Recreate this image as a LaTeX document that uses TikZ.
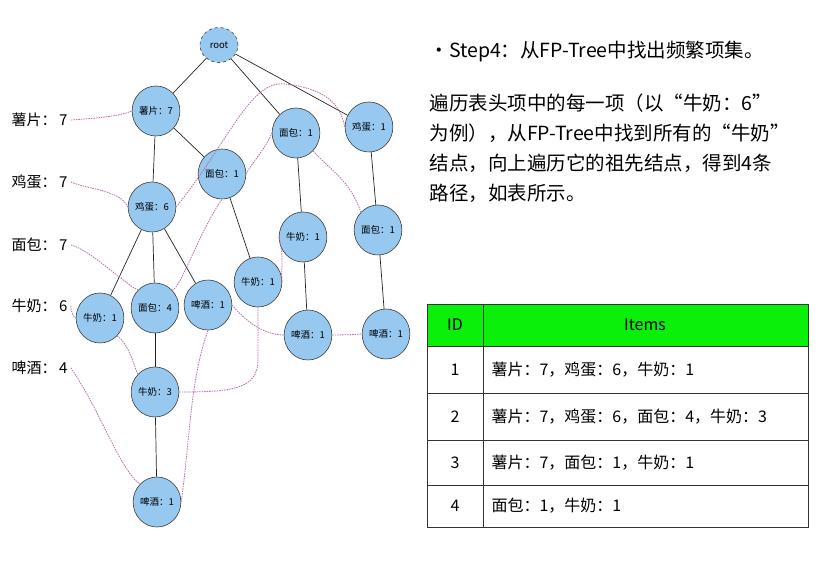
\documentclass[tikz,border=0pt]{standalone}
\usepackage{fontspec}
\setmainfont{Noto Sans CJK SC}
\usetikzlibrary{shapes.geometric}
\definecolor{nodeblue}{RGB}{150,200,240}
\definecolor{linkpurple}{RGB}{180,110,170}
\definecolor{hdrgreen}{RGB}{10,240,10}
\tikzset{
  tn/.style={ellipse,draw=black!75,line width=0.6pt,fill=nodeblue,minimum width=36pt,minimum height=50pt,inner sep=0pt,font=\fontsize{9.5}{10}\selectfont},
  te/.style={draw=black!85,line width=0.7pt},
  lk/.style={draw=linkpurple,line width=0.8pt,dash pattern=on 1.5pt off 1pt},
  hl/.style={anchor=west,font=\fontsize{15}{17}\selectfont},
  para/.style={anchor=west,font=\fontsize{19.5}{22}\selectfont},
  cell/.style={font=\fontsize{16}{18}\selectfont}
}
\begin{document}
\begin{tikzpicture}[x=1pt,y=-1pt]
\useasboundingbox[fill=white] (0,0) rectangle (825,577);
% tree nodes
\node[tn,dashed,minimum width=38pt,minimum height=35pt] (root) at (219,45) {root};
\node[tn] (sp7) at (156,111) {薯片：7};
\node[tn] (mb1a) at (222,174) {面包：1};
\node[tn] (mb1b) at (296,133) {面包：1};
\node[tn] (jd1) at (369,127) {鸡蛋：1};
\node[tn] (jd6) at (152,207) {鸡蛋：6};
\node[tn] (nn1c) at (303,237) {牛奶：1};
\node[tn] (mb1d) at (378,230) {面包：1};
\node[tn] (nn1b) at (258,282) {牛奶：1};
\node[tn] (nn1a) at (100,318) {牛奶：1};
\node[tn] (mb4) at (155,308) {面包：4};
\node[tn] (pj1a) at (208,305) {啤酒：1};
\node[tn] (pj1b) at (308,335) {啤酒：1};
\node[tn] (pj1c) at (386,334) {啤酒：1};
\node[tn] (nn3) at (155,392) {牛奶：3};
\node[tn] (pj1d) at (157,502) {啤酒：1};
% header labels
\node[hl] (hsp) at (8,120) {薯片：\,7};
\node[hl] (hjd) at (8,182) {鸡蛋：\,7};
\node[hl] (hmb) at (8,245) {面包：\,7};
\node[hl] (hnn) at (8,306) {牛奶：\,6};
\node[hl] (hpj) at (8,368) {啤酒：\,4};
% tree edges
\foreach \a/\b in {root/sp7,root/mb1b,root/jd1,sp7/jd6,sp7/mb1a,mb1a/nn1b,mb1b/nn1c,nn1c/pj1b,jd1/mb1d,mb1d/pj1c,jd6/nn1a,jd6/mb4,jd6/pj1a,mb4/nn3,nn3/pj1d}
  \draw[te] (\a) -- (\b);
% node links
\draw[lk] (hsp.east) .. controls (100,118) and (120,116) .. (sp7.west);
\draw[lk] (hjd.east) .. controls (90,190) and (120,190) .. (jd6.west);
\draw[lk] (jd6.east) .. controls (230,140) and (250,80) .. (285,84) .. controls (320,88) and (340,100) .. (jd1.west);
\draw[lk] (hmb.east) .. controls (90,250) and (120,280) .. (mb4.north west);
\draw[lk] (mb4.north east) .. controls (180,290) and (200,230) .. (mb1a.south);
\draw[lk] (mb1a.east) .. controls (250,165) and (265,150) .. (mb1b.west);
\draw[lk] (mb1b.south east) .. controls (330,170) and (350,180) .. (mb1d.north west);
\draw[lk] (hnn.east) .. controls (70,310) and (75,320) .. (nn1a.west);
\draw[lk] (nn1a.south east) .. controls (130,345) and (135,370) .. (nn3.north west);
\draw[lk] (nn3.east) .. controls (230,392) and (258,390) .. (258,360) -- (nn1b.south);
\draw[lk] (nn1b.east) .. controls (280,270) and (285,262) .. (nn1c.west);
\draw[lk] (hpj.east) .. controls (100,410) and (120,470) .. (pj1d.north west);
\draw[lk] (pj1d.east) .. controls (190,440) and (190,380) .. (pj1a.south);
\draw[lk] (pj1a.east) .. controls (240,315) and (260,335) .. (pj1b.west);
\draw[lk] (pj1b.east) .. controls (330,335) and (350,335) .. (pj1c.west);
% text
\node[para] (t0) at (426,52) {•Step4：从FP-Tree中找出频繁项集。};
\node[para] (t1) at (426,103) {遍历表头项中的每一项（以“牛奶：6”};
\node[para] (t2) at (426,133) {为例），从FP-Tree中找到所有的“牛奶”};
\node[para] (t3) at (426,163) {结点，向上遍历它的祖先结点，得到4条};
\node[para] (t4) at (426,193) {路径，如表所示。};
% table
\fill[hdrgreen] (427,304) rectangle (808,346);
\draw[black!80,line width=0.6pt] (427,304) rectangle (808,527);
\foreach \yy in {346,393,440,485} \draw[black!80,line width=0.6pt] (427,\yy) -- (808,\yy);
\draw[black!80,line width=0.6pt] (483,304) -- (483,527);
\node[cell] (hid) at (455,325) {ID};
\node[cell] (hit) at (645,325) {Items};
\node[cell] (r1a) at (455,370) {1};
\node[cell] (r2a) at (455,417) {2};
\node[cell] (r3a) at (455,463) {3};
\node[cell] (r4a) at (455,506) {4};
\node[cell,anchor=west] (r1b) at (488,370) {薯片：7，鸡蛋：6，牛奶：1};
\node[cell,anchor=west] (r2b) at (488,417) {薯片：7，鸡蛋：6，面包：4，牛奶：3};
\node[cell,anchor=west] (r3b) at (488,463) {薯片：7，面包：1，牛奶：1};
\node[cell,anchor=west] (r4b) at (488,506) {面包：1，牛奶：1};
\end{tikzpicture}
\end{document}
